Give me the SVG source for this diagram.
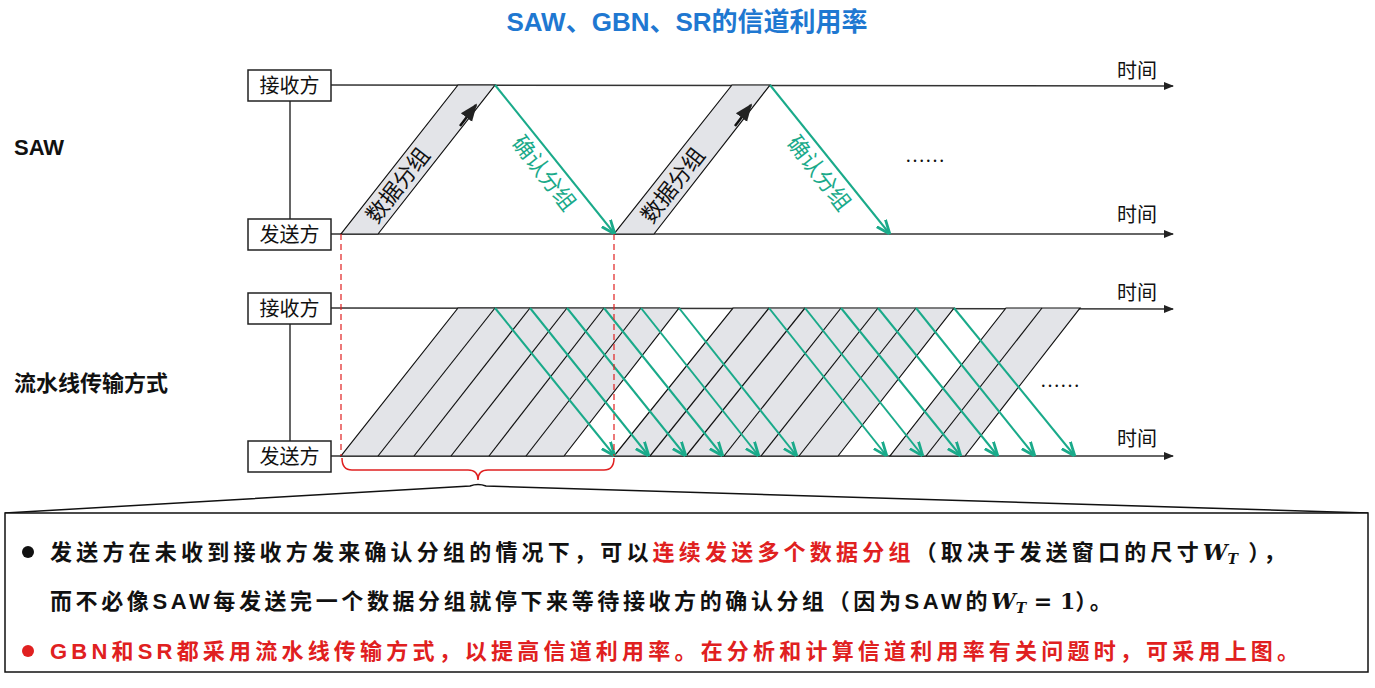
<svg xmlns="http://www.w3.org/2000/svg" width="1375" height="688" viewBox="0 0 1375 688">
<style>
.t{font-family:"Liberation Serif","Noto Sans CJK SC",serif;font-size:20px;fill:#111}
.r{font-size:22px}
.b{font-family:"Liberation Sans","Noto Sans CJK SC",sans-serif;font-weight:bold}
.box{fill:#fff;stroke:#222;stroke-width:1.5}
.ln{stroke:#333;stroke-width:1.5;fill:none}
.pk{fill:#e3e4e8;stroke:#111;stroke-width:1.2}
.ack{stroke:#1aaa8a;stroke-width:2;fill:none;marker-end:url(#ga)}
.m{font-family:"DejaVu Serif",serif;font-style:italic;font-weight:bold}
</style>
<defs>
<marker id="ga" viewBox="0 0 10 10" refX="9" refY="5" markerWidth="7" markerHeight="7" orient="auto"><path d="M0,1 L10,5 L0,9" fill="none" stroke="#1aaa8a" stroke-width="2"/></marker>
<marker id="ka" viewBox="0 0 10 10" refX="9" refY="5" markerWidth="7" markerHeight="7" orient="auto"><path d="M0,1 L10,5 L0,9 Z" fill="#222"/></marker>
</defs>
<rect width="1375" height="688" fill="#fff"/>
<text x="687" y="31" text-anchor="middle" class="b" font-size="26" fill="#1f78d1">SAW、GBN、SR的信道利用率</text>
<text x="14" y="155" class="b" font-size="22" fill="#111">SAW</text>
<text x="14" y="391" class="b" font-size="22" fill="#111">流水线传输方式</text>
<g id="connectors">
<line x1="290" y1="101" x2="290" y2="219" class="ln"/>
<line x1="290" y1="324" x2="290" y2="441" class="ln"/>
<line x1="331" y1="85" x2="1173" y2="86" class="ln" marker-end="url(#ka)"/>
<line x1="331" y1="234" x2="1173" y2="234" class="ln" marker-end="url(#ka)"/>
<line x1="331" y1="308" x2="1173" y2="309" class="ln" marker-end="url(#ka)"/>
<line x1="331" y1="456" x2="1173" y2="456" class="ln" marker-end="url(#ka)"/>
<polygon class="pk" points="341,234 378,234 495,85 458,85"/>
<polygon class="pk" points="614,234 654,234 770,85 732,85"/>
<line x1="495" y1="85" x2="614" y2="233" class="ack"/>
<line x1="770" y1="85" x2="889" y2="233" class="ack"/>
<line x1="460" y1="126" x2="476" y2="105" stroke="#111" stroke-width="2.5" marker-end="url(#ka)"/>
<line x1="735" y1="126" x2="751" y2="105" stroke="#111" stroke-width="2.5" marker-end="url(#ka)"/>
<g class="t">
<text class="r" transform="translate(404,190) rotate(-52)" text-anchor="middle">数据分组</text>
<text class="r" transform="translate(679,190) rotate(-52)" text-anchor="middle">数据分组</text>
<text class="r" transform="translate(538,178) rotate(52)" text-anchor="middle" style="fill:#1aaa8a">确认分组</text>
<text class="r" transform="translate(813,178) rotate(52)" text-anchor="middle" style="fill:#1aaa8a">确认分组</text>
<text x="905" y="162">……</text>
<text x="1040" y="387">……</text>
<text x="1117" y="78">时间</text>
<text x="1117" y="222">时间</text>
<text x="1117" y="300">时间</text>
<text x="1117" y="446">时间</text>
</g>
<polygon class="pk" points="341,456 564,456 679,308 458,308"/>
<polygon class="pk" points="614,456 838,456 954,308 733,308"/>
<polygon class="pk" points="890,456 965,456 1080,308 1006,308"/>
<g class="ln" style="stroke:#111;stroke-width:1.2">
<line x1="378" y1="456" x2="495" y2="308"/><line x1="414" y1="456" x2="530" y2="308"/><line x1="451" y1="456" x2="567" y2="308"/><line x1="489" y1="456" x2="604" y2="308"/><line x1="526" y1="456" x2="641" y2="308"/>
<line x1="650" y1="456" x2="769" y2="308"/><line x1="686" y1="456" x2="805" y2="308"/><line x1="724" y1="456" x2="841" y2="308"/><line x1="761" y1="456" x2="878" y2="308"/><line x1="799" y1="456" x2="916" y2="308"/>
<line x1="926" y1="456" x2="1042" y2="308"/>
</g>
<line x1="495" y1="308" x2="614" y2="455" class="ack"/>
<line x1="530" y1="308" x2="648" y2="455" class="ack"/>
<line x1="567" y1="308" x2="685" y2="455" class="ack"/>
<line x1="604" y1="308" x2="722" y2="455" class="ack"/>
<line x1="641" y1="308" x2="758" y2="455" class="ack"/>
<line x1="679" y1="308" x2="796" y2="455" class="ack"/>
<line x1="769" y1="308" x2="886" y2="455" class="ack"/>
<line x1="805" y1="308" x2="922" y2="455" class="ack"/>
<line x1="841" y1="308" x2="960" y2="455" class="ack"/>
<line x1="878" y1="308" x2="997" y2="455" class="ack"/>
<line x1="916" y1="308" x2="1034" y2="455" class="ack"/>
<line x1="954" y1="308" x2="1074" y2="455" class="ack"/>
<line x1="341" y1="234" x2="341" y2="456" stroke="#e02020" stroke-width="1.2" stroke-dasharray="6,4"/>
<line x1="614" y1="234" x2="614" y2="456" stroke="#e02020" stroke-width="1.2" stroke-dasharray="6,4"/>
<path d="M342,458 Q342,470 352,470 L468,470 Q478,470 478,480 Q478,470 488,470 L604,470 Q614,470 614,458" fill="none" stroke="#e02020" stroke-width="1.5"/>
<path d="M5,513 L470,486 Q478,483 486,486 L1368,513" fill="none" stroke="#111" stroke-width="1.5"/>
</g>
<g id="n-recv1"><rect class="box" x="248" y="70" width="83" height="31"/><text class="t" x="289.5" y="93" text-anchor="middle">接收方</text></g>
<g id="n-send1"><rect class="box" x="248" y="219" width="83" height="31"/><text class="t" x="289.5" y="242" text-anchor="middle">发送方</text></g>
<g id="n-recv2"><rect class="box" x="248" y="293" width="83" height="31"/><text class="t" x="289.5" y="316" text-anchor="middle">接收方</text></g>
<g id="n-send2"><rect class="box" x="248" y="441" width="83" height="31"/><text class="t" x="289.5" y="464" text-anchor="middle">发送方</text></g>
<g id="note">
<rect x="5" y="513" width="1363" height="159" fill="#fff" stroke="#111" stroke-width="1.5"/>
<circle cx="28" cy="552" r="6" fill="#111"/>
<circle cx="28" cy="651" r="6" fill="#e02020"/>
<text x="50" y="560" class="b" font-size="22" fill="#111" letter-spacing="4.2">发送方在未收到接收方发来确认分组的情况下，可以<tspan fill="#e02020">连续发送多个数据分组</tspan>（取决于发送窗口的尺寸<tspan class="m" letter-spacing="0">W</tspan><tspan class="m" font-size="14" dy="4" letter-spacing="0">T</tspan><tspan dy="-4"> ），</tspan></text>
<text x="50" y="609" class="b" font-size="22" fill="#111" letter-spacing="3.6">而不必像SAW每发送完一个数据分组就停下来等待接收方的确认分组（因为SAW的<tspan class="m" letter-spacing="0">W</tspan><tspan class="m" font-size="14" dy="4" letter-spacing="0">T</tspan><tspan dy="-4" letter-spacing="0" font-family="DejaVu Serif"> = 1</tspan>）。</text>
<text x="50" y="659" class="b" font-size="22" fill="#e02020" letter-spacing="4.2">GBN和SR都采用流水线传输方式，以提高信道利用率。在分析和计算信道利用率有关问题时，可采用上图。</text>
</g>
</svg>
